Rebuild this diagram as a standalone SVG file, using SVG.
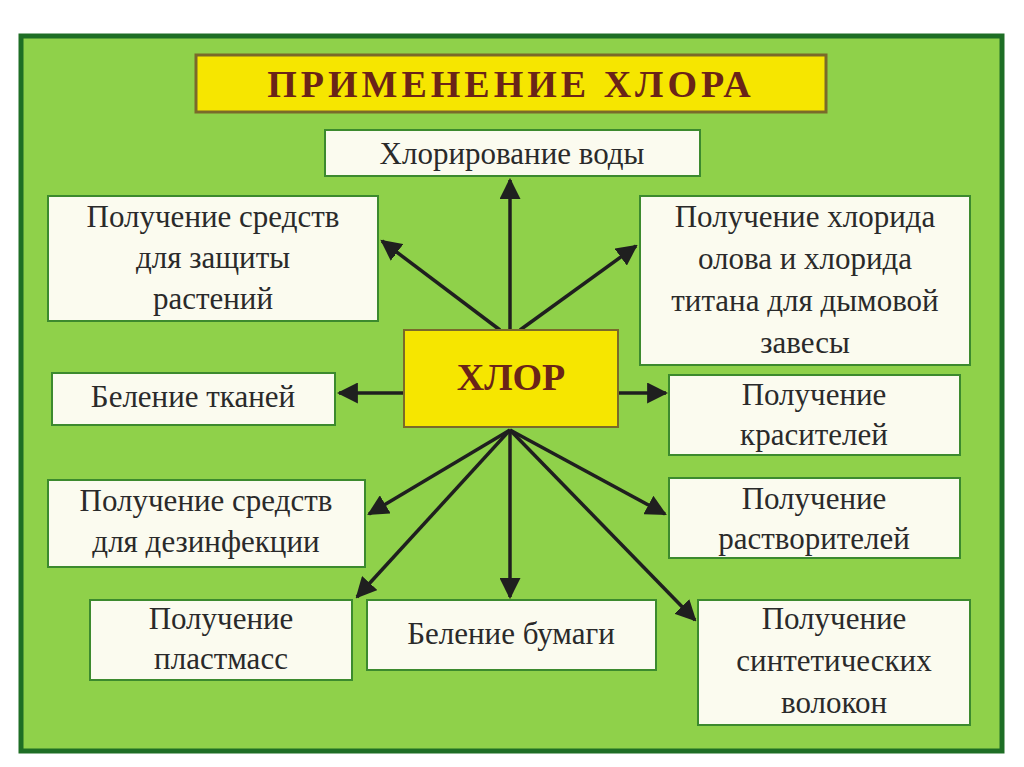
<svg xmlns="http://www.w3.org/2000/svg" width="1024" height="767" viewBox="0 0 1024 767">
<defs>
<style>
.b{fill:#fbfbef;stroke:#3c8a2e;stroke-width:2}
.t{font-family:"Liberation Serif",serif;font-size:31px;fill:#2a2a2a;text-anchor:middle}
.c line{stroke:#1f1f1f;stroke-width:3.5;marker-end:url(#a)}
</style>
<marker id="a" viewBox="0 0 10 10" refX="9" refY="5" markerWidth="6" markerHeight="6" orient="auto" markerUnits="strokeWidth"><path d="M0,0 L10,5 L0,10 z" fill="#1f1f1f"/></marker>
</defs>
<rect width="1024" height="767" fill="#fff"/>
<rect x="21" y="36" width="981" height="715" fill="#8fd14a" stroke="#1e6e25" stroke-width="5"/>
<g id="title"><rect x="196" y="55" width="630" height="57" fill="#f6e600" stroke="#7a6a2a" stroke-width="3"/>
<text x="511" y="97" font-family="Liberation Serif,serif" font-size="38" font-weight="bold" fill="#6a2418" text-anchor="middle" letter-spacing="4">ПРИМЕНЕНИЕ ХЛОРА</text></g>
<g class="c">
<line x1="510" y1="330" x2="510" y2="180"/>
<line x1="500" y1="330" x2="382" y2="241"/>
<line x1="520" y1="330" x2="636" y2="246"/>
<line x1="404" y1="393" x2="339" y2="393"/>
<line x1="618" y1="393" x2="666" y2="393"/>
<line x1="510" y1="430" x2="369" y2="514"/>
<line x1="510" y1="430" x2="357" y2="597"/>
<line x1="510" y1="430" x2="510" y2="597"/>
<line x1="510" y1="430" x2="665" y2="514"/>
<line x1="510" y1="430" x2="695" y2="620"/>
</g>
<g id="center"><rect x="404" y="330" width="214" height="97" fill="#f6e600" stroke="#7a6a2a" stroke-width="2"/>
<text x="511" y="390" font-family="Liberation Serif,serif" font-size="38" font-weight="bold" fill="#6a2418" text-anchor="middle">ХЛОР</text></g>
<g id="n1"><rect class="b" x="325" y="130" width="375" height="46"/><text class="t" x="512" y="164">Хлорирование воды</text></g>
<g id="n2"><rect class="b" x="48" y="196" width="330" height="125"/><text class="t" x="213" y="227">Получение средств</text><text class="t" x="213" y="268">для защиты</text><text class="t" x="213" y="309">растений</text></g>
<g id="n3"><rect class="b" x="640" y="196" width="330" height="169"/><text class="t" x="805" y="227">Получение хлорида</text><text class="t" x="805" y="269">олова и хлорида</text><text class="t" x="805" y="311">титана для дымовой</text><text class="t" x="805" y="353">завесы</text></g>
<g id="n4"><rect class="b" x="52" y="373" width="283" height="52"/><text class="t" x="193" y="407">Беление тканей</text></g>
<g id="n5"><rect class="b" x="669" y="375" width="291" height="80"/><text class="t" x="814" y="405">Получение</text><text class="t" x="814" y="445">красителей</text></g>
<g id="n6"><rect class="b" x="48" y="480" width="317" height="87"/><text class="t" x="206" y="511">Получение средств</text><text class="t" x="206" y="552">для дезинфекции</text></g>
<g id="n7"><rect class="b" x="669" y="478" width="291" height="80"/><text class="t" x="814" y="509">Получение</text><text class="t" x="814" y="549">растворителей</text></g>
<g id="n8"><rect class="b" x="90" y="600" width="262" height="80"/><text class="t" x="221" y="629">Получение</text><text class="t" x="221" y="669">пластмасс</text></g>
<g id="n9"><rect class="b" x="367" y="600" width="289" height="70"/><text class="t" x="511" y="644">Беление бумаги</text></g>
<g id="n10"><rect class="b" x="698" y="600" width="272" height="125"/><text class="t" x="834" y="629">Получение</text><text class="t" x="834" y="671">синтетических</text><text class="t" x="834" y="713">волокон</text></g>
</svg>
